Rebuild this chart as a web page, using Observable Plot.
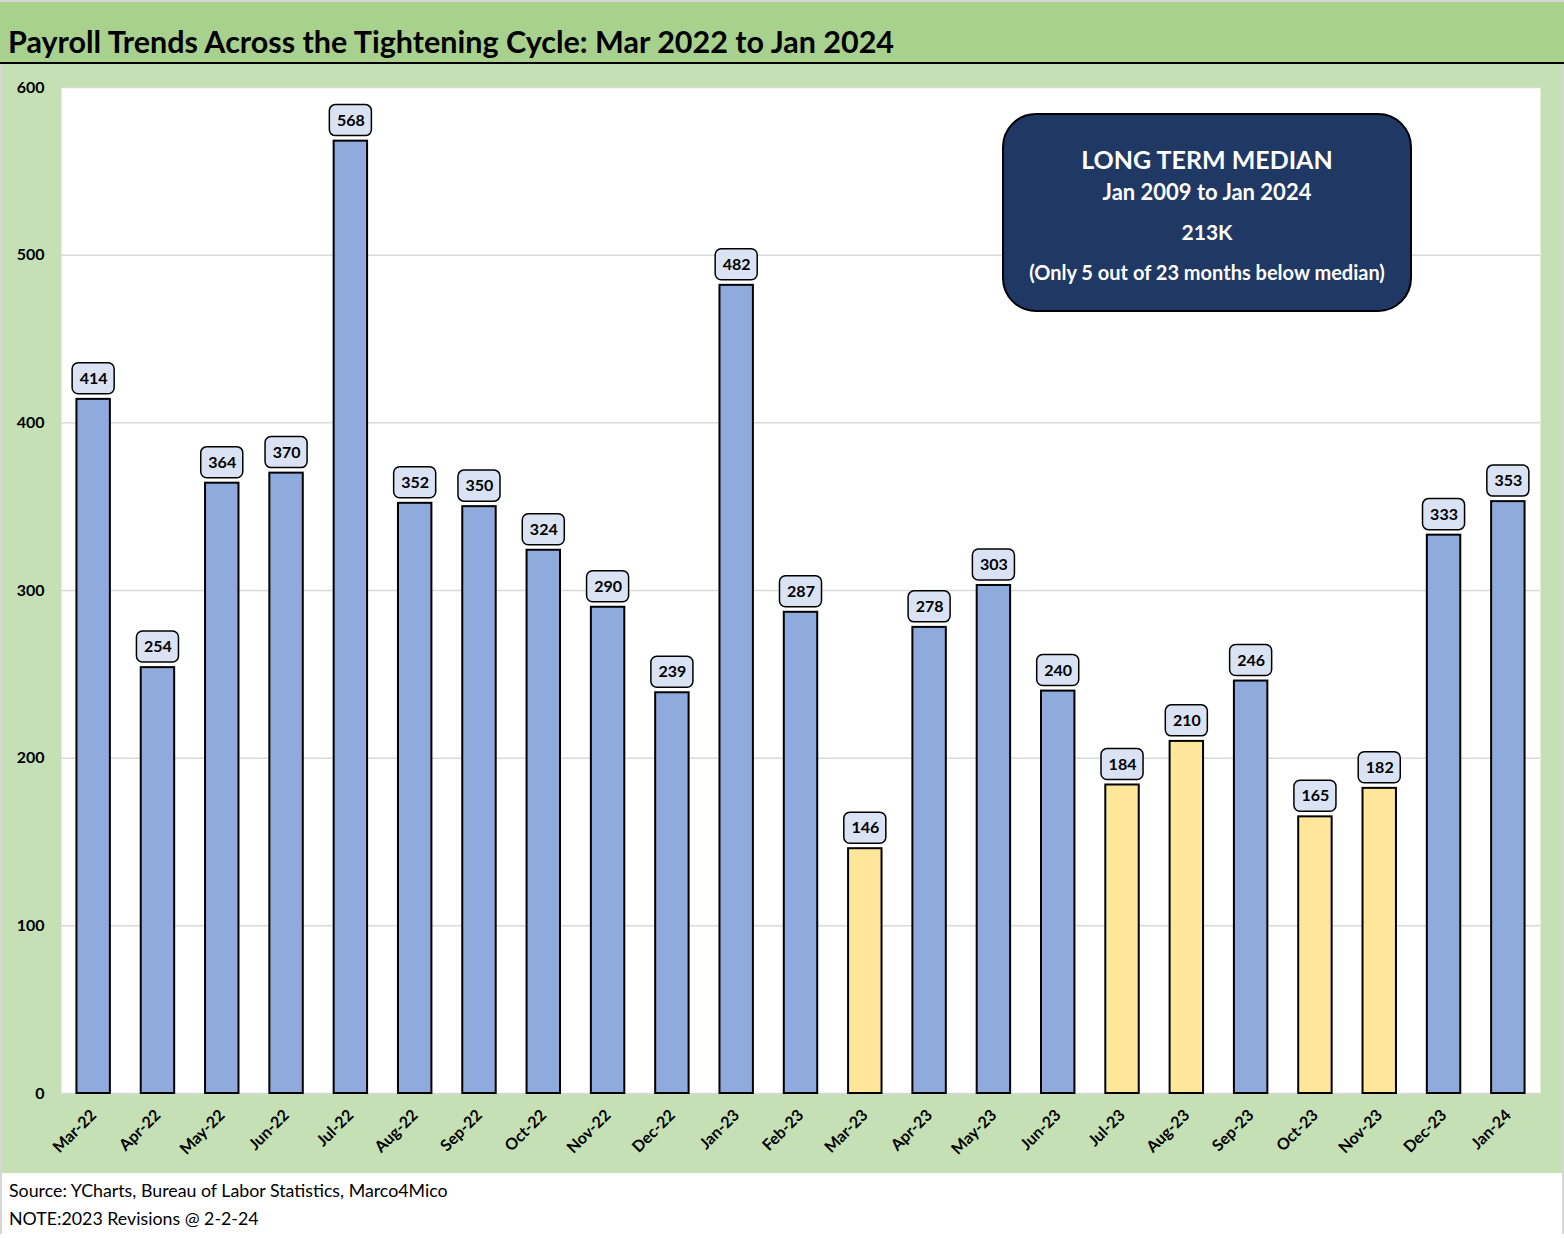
<!DOCTYPE html>
<html>
<head>
<meta charset="utf-8">
<script src="https://cdn.jsdelivr.net/npm/d3@7"></script>
<script src="https://cdn.jsdelivr.net/npm/@observablehq/plot@0.6"></script>
<style>
  html, body { margin: 0; padding: 0; background: #fff; }
  #wrap { position: relative; width: 1564px; background: #d6d6d6; padding-top: 2px; font-family: Lato, "Open Sans", sans-serif; }
  #title { background: #A9D18E; border-bottom: 2px solid #000; box-sizing: border-box; height: 62px;
           font-weight: bold; font-size: 30.5px; line-height: 40px; padding-top: 19px; padding-left: 8px; color: #000; white-space: nowrap; }
  #chart { padding: 0 2px; background: #d6d6d6; line-height: 0; }
  #footer { background: #fff; margin: 0 2px; height: 61px; padding-top: 3px; box-sizing: border-box; font-size: 17.8px; color: #000; }
  #footer div { line-height: 28px; padding-left: 7px; }
  #note { position: absolute; left: 1002px; top: 113px; width: 410px; height: 199px; box-sizing: border-box;
          background: #203864; border: 2px solid #000; border-radius: 34px; color: #fff; font-weight: bold; text-align: center; }
  #note div { position: absolute; left: 0; right: 0; line-height: 30px; white-space: nowrap; }
</style>
</head>
<body>
<div id="wrap">
  <div id="title">Payroll Trends Across the Tightening Cycle: Mar 2022 to Jan 2024</div>
  <div id="chart"></div>
  <div id="footer">
    <div>Source: YCharts, Bureau of Labor Statistics, Marco4Mico</div>
    <div>NOTE:2023 Revisions @ 2-2-24</div>
  </div>
  <div id="note">
    <div style="top:29px;font-size:25px;">LONG TERM MEDIAN</div>
    <div style="top:62px;font-size:22px;">Jan 2009 to Jan 2024</div>
    <div style="top:102px;font-size:21px;">213K</div>
    <div style="top:142px;font-size:20px;">(Only 5 out of 23 months below median)</div>
  </div>
</div>
<script>
const months = ["Mar-22","Apr-22","May-22","Jun-22","Jul-22","Aug-22","Sep-22","Oct-22","Nov-22","Dec-22","Jan-23","Feb-23","Mar-23","Apr-23","May-23","Jun-23","Jul-23","Aug-23","Sep-23","Oct-23","Nov-23","Dec-23","Jan-24"];
const payrolls = [414,254,364,370,568,352,350,324,290,239,482,287,146,278,303,240,184,210,246,165,182,333,353];
const longTermMedian = 213;
const yTicks = [0,100,200,300,400,500,600];

const data = months.map((m, i) => ({month: m, value: payrolls[i], group: payrolls[i] < longTermMedian ? "below" : "above"}));

const chart = Plot.plot({
  width: 1560,
  height: 1109,
  marginTop: 23,
  marginBottom: 80,
  marginLeft: 59,
  marginRight: 22,
  style: {background: "#C5E0B4", fontFamily: "Lato, 'Open Sans', sans-serif", color: "#000", overflow: "visible", fontSize: "16px"},
  x: {domain: months, paddingInner: 0.48, paddingOuter: 0.24, round: false, label: null},
  y: {domain: [0, 600], label: null},
  color: {domain: ["above", "below"], range: ["#8FAADC", "#FFE699"]},
  marks: [
    Plot.frame({fill: "#fff", stroke: null}),
    Plot.gridY(yTicks, {stroke: "#d9d9d9", strokeOpacity: 1, strokeWidth: 1.5}),
    Plot.barY(data, {x: "month", y: "value", fill: "group", stroke: "#000", strokeWidth: 2}),
    Plot.barY(data, {x: "month", y1: d => d.value + 3, y2: d => d.value + 21.5, fill: "#DAE3F3", stroke: "#000", strokeWidth: 1.5, rx: 6, insetLeft: -4.3, insetRight: -4.3}),
    Plot.text(data, {x: "month", y: "value", text: d => String(d.value), dy: -20.5, fontWeight: "bold", fontSize: 16, fill: "#000"}),
    Plot.axisY({ticks: yTicks, tickSize: 0, tickPadding: 17, fontWeight: "bold", fontSize: 16, label: null}),
    Plot.axisX({tickRotate: -45, tickSize: 0, tickPadding: 19, fontWeight: "bold", fontSize: 16, label: null})
  ]
});
document.getElementById("chart").appendChild(chart);
</script>
</body>
</html>
